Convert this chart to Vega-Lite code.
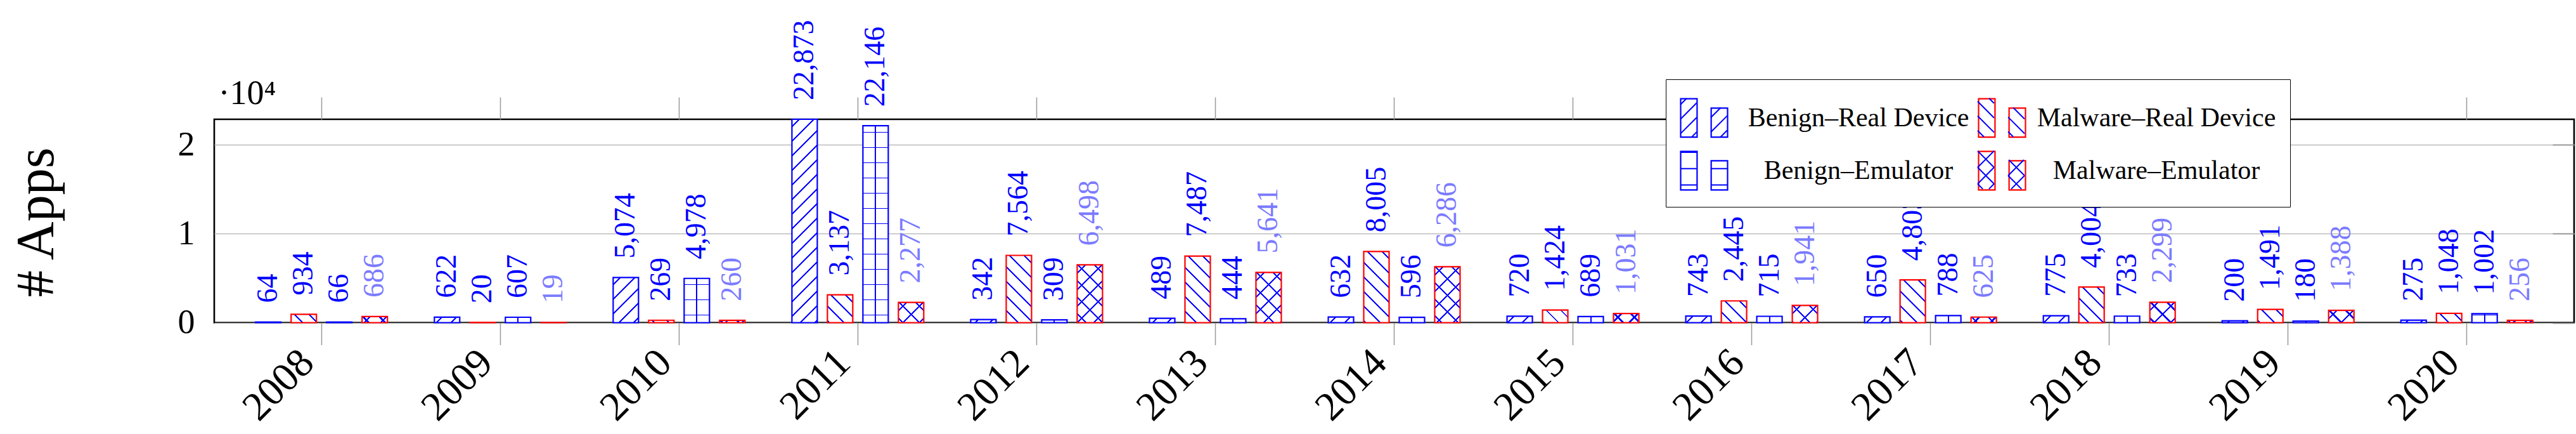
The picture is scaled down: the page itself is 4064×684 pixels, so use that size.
{
  "$schema": "https://vega.github.io/schema/vega-lite/v6.json",
  "width": 3723,
  "height": 320.5,
  "autosize": {"type": "none"},
  "padding": {"left": 338, "top": 188, "right": 3, "bottom": 175.5},
  "background": "white",
  "config": {"view": {"stroke": "black", "strokeWidth": 2.6}, "font": "Liberation Serif"},
  "params": [
    {"name": "stopsD", "value": [
      {"offset":0.02725,"color":"#fff"},{"offset":0.02725,"color":"#00f"},{"offset":0.03525,"color":"#00f"},{"offset":0.03525,"color":"#fff"},
      {"offset":0.08975,"color":"#fff"},{"offset":0.08975,"color":"#00f"},{"offset":0.09775,"color":"#00f"},{"offset":0.09775,"color":"#fff"},
      {"offset":0.15225,"color":"#fff"},{"offset":0.15225,"color":"#00f"},{"offset":0.16025,"color":"#00f"},{"offset":0.16025,"color":"#fff"},
      {"offset":0.21475,"color":"#fff"},{"offset":0.21475,"color":"#00f"},{"offset":0.22275,"color":"#00f"},{"offset":0.22275,"color":"#fff"},
      {"offset":0.27725,"color":"#fff"},{"offset":0.27725,"color":"#00f"},{"offset":0.28525,"color":"#00f"},{"offset":0.28525,"color":"#fff"},
      {"offset":0.33975,"color":"#fff"},{"offset":0.33975,"color":"#00f"},{"offset":0.34775,"color":"#00f"},{"offset":0.34775,"color":"#fff"},
      {"offset":0.40225,"color":"#fff"},{"offset":0.40225,"color":"#00f"},{"offset":0.41025,"color":"#00f"},{"offset":0.41025,"color":"#fff"},
      {"offset":0.46475,"color":"#fff"},{"offset":0.46475,"color":"#00f"},{"offset":0.47275,"color":"#00f"},{"offset":0.47275,"color":"#fff"},
      {"offset":0.52725,"color":"#fff"},{"offset":0.52725,"color":"#00f"},{"offset":0.53525,"color":"#00f"},{"offset":0.53525,"color":"#fff"},
      {"offset":0.58975,"color":"#fff"},{"offset":0.58975,"color":"#00f"},{"offset":0.59775,"color":"#00f"},{"offset":0.59775,"color":"#fff"},
      {"offset":0.65225,"color":"#fff"},{"offset":0.65225,"color":"#00f"},{"offset":0.66025,"color":"#00f"},{"offset":0.66025,"color":"#fff"},
      {"offset":0.71475,"color":"#fff"},{"offset":0.71475,"color":"#00f"},{"offset":0.72275,"color":"#00f"},{"offset":0.72275,"color":"#fff"},
      {"offset":0.77725,"color":"#fff"},{"offset":0.77725,"color":"#00f"},{"offset":0.78525,"color":"#00f"},{"offset":0.78525,"color":"#fff"},
      {"offset":0.83975,"color":"#fff"},{"offset":0.83975,"color":"#00f"},{"offset":0.84775,"color":"#00f"},{"offset":0.84775,"color":"#fff"},
      {"offset":0.90225,"color":"#fff"},{"offset":0.90225,"color":"#00f"},{"offset":0.91025,"color":"#00f"},{"offset":0.91025,"color":"#fff"},
      {"offset":0.96475,"color":"#fff"},{"offset":0.96475,"color":"#00f"},{"offset":0.97275,"color":"#00f"},{"offset":0.97275,"color":"#fff"}
    ]},
    {"name": "stopsDT", "value": [
      {"offset":0.02725,"color":"transparent"},{"offset":0.02725,"color":"#00f"},{"offset":0.03525,"color":"#00f"},{"offset":0.03525,"color":"transparent"},
      {"offset":0.08975,"color":"transparent"},{"offset":0.08975,"color":"#00f"},{"offset":0.09775,"color":"#00f"},{"offset":0.09775,"color":"transparent"},
      {"offset":0.15225,"color":"transparent"},{"offset":0.15225,"color":"#00f"},{"offset":0.16025,"color":"#00f"},{"offset":0.16025,"color":"transparent"},
      {"offset":0.21475,"color":"transparent"},{"offset":0.21475,"color":"#00f"},{"offset":0.22275,"color":"#00f"},{"offset":0.22275,"color":"transparent"},
      {"offset":0.27725,"color":"transparent"},{"offset":0.27725,"color":"#00f"},{"offset":0.28525,"color":"#00f"},{"offset":0.28525,"color":"transparent"},
      {"offset":0.33975,"color":"transparent"},{"offset":0.33975,"color":"#00f"},{"offset":0.34775,"color":"#00f"},{"offset":0.34775,"color":"transparent"},
      {"offset":0.40225,"color":"transparent"},{"offset":0.40225,"color":"#00f"},{"offset":0.41025,"color":"#00f"},{"offset":0.41025,"color":"transparent"},
      {"offset":0.46475,"color":"transparent"},{"offset":0.46475,"color":"#00f"},{"offset":0.47275,"color":"#00f"},{"offset":0.47275,"color":"transparent"},
      {"offset":0.52725,"color":"transparent"},{"offset":0.52725,"color":"#00f"},{"offset":0.53525,"color":"#00f"},{"offset":0.53525,"color":"transparent"},
      {"offset":0.58975,"color":"transparent"},{"offset":0.58975,"color":"#00f"},{"offset":0.59775,"color":"#00f"},{"offset":0.59775,"color":"transparent"},
      {"offset":0.65225,"color":"transparent"},{"offset":0.65225,"color":"#00f"},{"offset":0.66025,"color":"#00f"},{"offset":0.66025,"color":"transparent"},
      {"offset":0.71475,"color":"transparent"},{"offset":0.71475,"color":"#00f"},{"offset":0.72275,"color":"#00f"},{"offset":0.72275,"color":"transparent"},
      {"offset":0.77725,"color":"transparent"},{"offset":0.77725,"color":"#00f"},{"offset":0.78525,"color":"#00f"},{"offset":0.78525,"color":"transparent"},
      {"offset":0.83975,"color":"transparent"},{"offset":0.83975,"color":"#00f"},{"offset":0.84775,"color":"#00f"},{"offset":0.84775,"color":"transparent"},
      {"offset":0.90225,"color":"transparent"},{"offset":0.90225,"color":"#00f"},{"offset":0.91025,"color":"#00f"},{"offset":0.91025,"color":"transparent"},
      {"offset":0.96475,"color":"transparent"},{"offset":0.96475,"color":"#00f"},{"offset":0.97275,"color":"#00f"},{"offset":0.97275,"color":"transparent"}
    ]},
    {"name": "stopsH", "value": [
      {"offset":0.02865,"color":"#fff"},{"offset":0.02865,"color":"#00f"},{"offset":0.03385,"color":"#00f"},{"offset":0.03385,"color":"#fff"},
      {"offset":0.09115,"color":"#fff"},{"offset":0.09115,"color":"#00f"},{"offset":0.09635,"color":"#00f"},{"offset":0.09635,"color":"#fff"},
      {"offset":0.15365,"color":"#fff"},{"offset":0.15365,"color":"#00f"},{"offset":0.15885,"color":"#00f"},{"offset":0.15885,"color":"#fff"},
      {"offset":0.21615,"color":"#fff"},{"offset":0.21615,"color":"#00f"},{"offset":0.22135,"color":"#00f"},{"offset":0.22135,"color":"#fff"},
      {"offset":0.27865,"color":"#fff"},{"offset":0.27865,"color":"#00f"},{"offset":0.28385,"color":"#00f"},{"offset":0.28385,"color":"#fff"},
      {"offset":0.34115,"color":"#fff"},{"offset":0.34115,"color":"#00f"},{"offset":0.34635,"color":"#00f"},{"offset":0.34635,"color":"#fff"},
      {"offset":0.40365,"color":"#fff"},{"offset":0.40365,"color":"#00f"},{"offset":0.40885,"color":"#00f"},{"offset":0.40885,"color":"#fff"},
      {"offset":0.46615,"color":"#fff"},{"offset":0.46615,"color":"#00f"},{"offset":0.47135,"color":"#00f"},{"offset":0.47135,"color":"#fff"},
      {"offset":0.52865,"color":"#fff"},{"offset":0.52865,"color":"#00f"},{"offset":0.53385,"color":"#00f"},{"offset":0.53385,"color":"#fff"},
      {"offset":0.59115,"color":"#fff"},{"offset":0.59115,"color":"#00f"},{"offset":0.59635,"color":"#00f"},{"offset":0.59635,"color":"#fff"},
      {"offset":0.65365,"color":"#fff"},{"offset":0.65365,"color":"#00f"},{"offset":0.65885,"color":"#00f"},{"offset":0.65885,"color":"#fff"},
      {"offset":0.71615,"color":"#fff"},{"offset":0.71615,"color":"#00f"},{"offset":0.72135,"color":"#00f"},{"offset":0.72135,"color":"#fff"},
      {"offset":0.77865,"color":"#fff"},{"offset":0.77865,"color":"#00f"},{"offset":0.78385,"color":"#00f"},{"offset":0.78385,"color":"#fff"},
      {"offset":0.84115,"color":"#fff"},{"offset":0.84115,"color":"#00f"},{"offset":0.84635,"color":"#00f"},{"offset":0.84635,"color":"#fff"},
      {"offset":0.90365,"color":"#fff"},{"offset":0.90365,"color":"#00f"},{"offset":0.90885,"color":"#00f"},{"offset":0.90885,"color":"#fff"},
      {"offset":0.96615,"color":"#fff"},{"offset":0.96615,"color":"#00f"},{"offset":0.97135,"color":"#00f"},{"offset":0.97135,"color":"#fff"}
    ]}
  ],
  "data": {"values": [
    {"year":"2008","series":"Benign–Real Device","value":64},{"year":"2008","series":"Malware–Real Device","value":934},{"year":"2008","series":"Benign–Emulator","value":66},{"year":"2008","series":"Malware–Emulator","value":686},
    {"year":"2009","series":"Benign–Real Device","value":622},{"year":"2009","series":"Malware–Real Device","value":20},{"year":"2009","series":"Benign–Emulator","value":607},{"year":"2009","series":"Malware–Emulator","value":19},
    {"year":"2010","series":"Benign–Real Device","value":5074},{"year":"2010","series":"Malware–Real Device","value":269},{"year":"2010","series":"Benign–Emulator","value":4978},{"year":"2010","series":"Malware–Emulator","value":260},
    {"year":"2011","series":"Benign–Real Device","value":22873},{"year":"2011","series":"Malware–Real Device","value":3137},{"year":"2011","series":"Benign–Emulator","value":22146},{"year":"2011","series":"Malware–Emulator","value":2277},
    {"year":"2012","series":"Benign–Real Device","value":342},{"year":"2012","series":"Malware–Real Device","value":7564},{"year":"2012","series":"Benign–Emulator","value":309},{"year":"2012","series":"Malware–Emulator","value":6498},
    {"year":"2013","series":"Benign–Real Device","value":489},{"year":"2013","series":"Malware–Real Device","value":7487},{"year":"2013","series":"Benign–Emulator","value":444},{"year":"2013","series":"Malware–Emulator","value":5641},
    {"year":"2014","series":"Benign–Real Device","value":632},{"year":"2014","series":"Malware–Real Device","value":8005},{"year":"2014","series":"Benign–Emulator","value":596},{"year":"2014","series":"Malware–Emulator","value":6286},
    {"year":"2015","series":"Benign–Real Device","value":720},{"year":"2015","series":"Malware–Real Device","value":1424},{"year":"2015","series":"Benign–Emulator","value":689},{"year":"2015","series":"Malware–Emulator","value":1031},
    {"year":"2016","series":"Benign–Real Device","value":743},{"year":"2016","series":"Malware–Real Device","value":2445},{"year":"2016","series":"Benign–Emulator","value":715},{"year":"2016","series":"Malware–Emulator","value":1941},
    {"year":"2017","series":"Benign–Real Device","value":650},{"year":"2017","series":"Malware–Real Device","value":4803},{"year":"2017","series":"Benign–Emulator","value":788},{"year":"2017","series":"Malware–Emulator","value":625},
    {"year":"2018","series":"Benign–Real Device","value":775},{"year":"2018","series":"Malware–Real Device","value":4004},{"year":"2018","series":"Benign–Emulator","value":733},{"year":"2018","series":"Malware–Emulator","value":2299},
    {"year":"2019","series":"Benign–Real Device","value":200},{"year":"2019","series":"Malware–Real Device","value":1491},{"year":"2019","series":"Benign–Emulator","value":180},{"year":"2019","series":"Malware–Emulator","value":1388},
    {"year":"2020","series":"Benign–Real Device","value":275},{"year":"2020","series":"Malware–Real Device","value":1048},{"year":"2020","series":"Benign–Emulator","value":1002},{"year":"2020","series":"Malware–Emulator","value":256}
  ]},
  "encoding": {
    "x": {"field": "year", "type": "ordinal", "scale": {"paddingInner": 0.2059, "paddingOuter": 0.203}, "axis": null},
    "xOffset": {"field": "series", "type": "nominal", "scale": {"domain": ["Benign–Real Device","Malware–Real Device","Benign–Emulator","Malware–Emulator"], "paddingInner": 0.2857, "paddingOuter": 0.1429}},
    "y": {"field": "value", "type": "quantitative", "scale": {"domain": [0, 22873], "nice": false, "zero": true}, "axis": null}
  },
  "layer": [
    {
      "transform": [{"filter": "datum.series === 'Benign–Real Device'"}],
      "mark": {"type": "bar", "stroke": "#0000ff", "strokeWidth": 2.2,
        "fill": {"expr": "{gradient:'linear',x1:0,y1:0,x2:14720/(1600+pow(datum.value*0.0140122,2)),y2:368*datum.value*0.0140122/(1600+pow(datum.value*0.0140122,2)),stops:stopsD}"}},
      "encoding": {
        "x": {"field": "year", "type": "ordinal", "axis": {"orient": "bottom", "title": null, "domain": false, "grid": false, "ticks": true, "tickSize": 35, "tickColor": "#999999", "tickWidth": 1.5, "labelAngle": -45, "labelAlign": "right", "labelBaseline": "middle", "labelFont": "Liberation Serif", "labelFontSize": 64, "labelColor": "black", "labelPadding": 18, "labelOffset": -22, "labelOverlap": false}},
        "y": {"field": "value", "type": "quantitative", "axis": {"orient": "left", "values": [0, 10000, 20000], "labelExpr": "format(datum.value/10000,'d')", "domain": false, "grid": true, "gridColor": "#bcbcbc", "gridWidth": 1.7, "ticks": false, "labelFont": "Liberation Serif", "labelFontSize": 54, "labelColor": "black", "labelPadding": 31, "title": "·10⁴", "titleAngle": 0, "titleX": 6, "titleY": -25, "titleAlign": "left", "titleBaseline": "alphabetic", "titleFont": "Liberation Serif", "titleFontSize": 54, "titleFontWeight": "normal", "titleColor": "black"}}
      }
    },
    {
      "transform": [{"filter": "datum.series === 'Malware–Real Device'"}],
      "mark": {"type": "bar", "stroke": "#ff0000", "strokeWidth": 2.2,
        "fill": {"expr": "{gradient:'linear',x1:1,y1:0,x2:1-14720/(1600+pow(datum.value*0.0140122,2)),y2:368*datum.value*0.0140122/(1600+pow(datum.value*0.0140122,2)),stops:stopsD}"}},
      "encoding": {
        "x": {"field": "year", "type": "ordinal", "axis": {"orient": "top", "title": null, "labels": false, "domain": false, "grid": false, "ticks": true, "tickSize": 35, "tickColor": "#999999", "tickWidth": 1.5}},
        "y": {"field": "value", "type": "quantitative", "axis": {"orient": "right", "values": [0, 10000, 20000], "labels": false, "domain": false, "grid": false, "ticks": true, "tickSize": -34, "tickColor": "#888888", "tickWidth": 1.7, "title": "# Apps", "titleAngle": 270, "titleX": -4003, "titleY": 162, "titleAlign": "center", "titleBaseline": "middle", "titleFont": "Liberation Serif", "titleFontSize": 84, "titleFontWeight": "normal", "titleColor": "black"}}
      }
    },
    {
      "transform": [{"filter": "datum.series === 'Benign–Emulator'"}],
      "mark": {"type": "bar",
        "fill": {"expr": "{gradient:'linear',x1:0,y1:1,x2:0,y2:1-384/(datum.value*0.0140122),stops:stopsH}"}}
    },
    {
      "transform": [{"filter": "datum.series === 'Benign–Emulator'"}],
      "mark": {"type": "bar", "stroke": "#0000ff", "strokeWidth": 2.2,
        "fill": {"gradient": "linear", "x1": 0, "y1": 0, "x2": 1, "y2": 0, "stops": [
          {"offset": 0.475, "color": "transparent"}, {"offset": 0.475, "color": "#0000ff"},
          {"offset": 0.525, "color": "#0000ff"}, {"offset": 0.525, "color": "transparent"}]}}
    },
    {
      "transform": [{"filter": "datum.series === 'Malware–Emulator'"}],
      "mark": {"type": "bar",
        "fill": {"expr": "{gradient:'linear',x1:0,y1:0,x2:16640/(1600+pow(datum.value*0.0140122,2)),y2:416*datum.value*0.0140122/(1600+pow(datum.value*0.0140122,2)),stops:stopsD}"}}
    },
    {
      "transform": [{"filter": "datum.series === 'Malware–Emulator'"}],
      "mark": {"type": "bar", "stroke": "#ff0000", "strokeWidth": 2.2,
        "fill": {"expr": "{gradient:'linear',x1:1,y1:0,x2:1-16640/(1600+pow(datum.value*0.0140122,2)),y2:416*datum.value*0.0140122/(1600+pow(datum.value*0.0140122,2)),stops:stopsDT}"}}
    },
    {
      "mark": {"type": "text", "angle": 270, "align": "left", "baseline": "middle", "dx": 30, "font": "Liberation Serif", "fontSize": 46},
      "encoding": {
        "text": {"field": "value", "type": "quantitative", "format": ","},
        "fill": {"condition": {"test": "datum.series === 'Malware–Emulator'", "value": "#7b7bff"}, "value": "#0000ff"}
      }
    },
    {
      "transform": [{"filter": "false"}],
      "mark": {"type": "point", "filled": false, "opacity": 1},
      "encoding": {
        "stroke": {"field": "series", "type": "nominal",
          "scale": {"domain": ["Malware–Real Device","Benign–Real Device","Malware–Emulator","Benign–Emulator"], "range": ["#ff0000","#0000ff","#ff0000","#0000ff"]},
          "legend": {"orient": "none", "legendX": 2290, "legendY": -63, "direction": "horizontal", "columns": 2, "title": null,
            "values": ["Benign–Real Device","Malware–Real Device","Benign–Emulator","Malware–Emulator"],
            "symbolType": "M-1,-0.82H-0.3V0.82H-1ZM0.3,-0.42H1V0.82H0.3Z", "symbolSize": 5476, "symbolStrokeWidth": 2.2, "symbolFillColor": "transparent",
            "labelFont": "Liberation Serif", "labelFontSize": 42, "labelColor": "black", "labelAlign": "center", "labelBaseline": "middle", "labelOffset": 205, "labelLimit": 1000,
            "padding": 22, "rowPadding": 9.5, "columnPadding": 10, "strokeColor": "black", "fillColor": "white", "cornerRadius": 0, "zindex": 1,
            "encode": {"legend": {"update": {"strokeWidth": {"value": 2.6}}}}}
        }
      }
    },
    {
      "transform": [{"filter": "false"}],
      "mark": {"type": "point", "filled": false, "opacity": 1, "color": "#0000ff"},
      "encoding": {
        "shape": {"field": "series", "type": "nominal",
          "scale": {"domain": ["Benign–Real Device","Malware–Real Device","Benign–Emulator","Malware–Emulator"],
            "range": [
              "M-1,-0.55L-0.73,-0.82M-1,0.07L-0.3,-0.63M-1,0.69L-0.3,-0.01M-0.51,0.82L-0.3,0.61M0.3,0L0.72,-0.42M0.3,0.62L1,-0.08M0.72,0.82L1,0.54",
              "M-1,0.55L-0.73,0.82M-1,-0.07L-0.3,0.63M-1,-0.69L-0.3,0.01M-0.51,-0.82L-0.3,-0.61M0.3,0.6L0.52,0.82M0.3,-0.02L1,0.68M0.52,-0.42L1,0.06",
              "M-1,-0.74H-0.3M-1,-0.05H-0.3M-1,0.65H-0.3M0.3,-0.05H1M0.3,0.65H1",
              "M-1,-0.1L-0.3,-0.8M-1,0.6L-0.3,-0.1M-0.52,0.82L-0.3,0.6M-1,-0.8L-0.3,-0.1M-1,-0.1L-0.3,0.6M-1,0.6L-0.78,0.82M0.3,0.25L0.97,-0.42M0.43,0.82L1,0.25M0.33,-0.42L1,0.25M0.3,0.25L0.87,0.82"
            ]},
          "legend": {"orient": "none", "legendX": 2290, "legendY": -63, "direction": "horizontal", "columns": 2, "title": null,
            "values": ["Benign–Real Device","Malware–Real Device","Benign–Emulator","Malware–Emulator"],
            "symbolSize": 5476, "symbolStrokeWidth": 2, "symbolFillColor": "transparent", "symbolStrokeColor": "#0000ff",
            "labelFont": "Liberation Serif", "labelFontSize": 42, "labelOpacity": 0, "labelAlign": "center", "labelBaseline": "middle", "labelOffset": 205, "labelLimit": 1000,
            "padding": 22, "rowPadding": 9.5, "columnPadding": 10, "strokeColor": "transparent", "fillColor": "transparent", "cornerRadius": 0, "zindex": 2}
        }
      }
    }
  ],
  "resolve": {"axis": {"x": "independent", "y": "independent"}}
}
